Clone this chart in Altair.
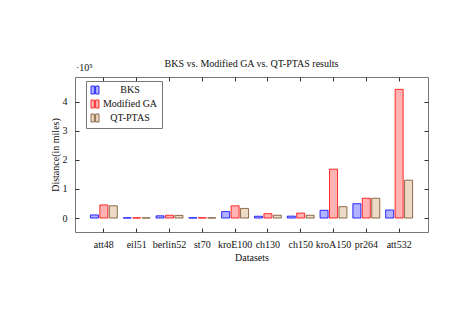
import altair as alt
import pandas as pd

datasets = ["att48", "eil51", "berlin52", "st70", "kroE100", "ch130", "ch150", "kroA150", "pr264", "att532"]
series = ["BKS", "Modified GA", "QT-PTAS"]
bks = [10628, 426, 7542, 675, 22068, 6110, 6528, 26524, 49135, 27686]
ga = [45000, 450, 9500, 720, 42000, 15000, 17000, 168000, 68000, 442000]
qt = [42000, 440, 9000, 700, 33000, 9500, 9500, 39000, 68000, 130000]
y_ticks = [0, 100000, 200000, 300000, 400000]

rows = []
for i, d in enumerate(datasets):
    for s, vals in zip(series, [bks, ga, qt]):
        rows.append({"Dataset": d, "Series": s, "Value": vals[i]})
df = pd.DataFrame(rows)

FONT = "Liberation Serif"
fills = ["#B3B3FF", "#FFB3B3", "#ECD9C6"]
strokes = ["#0000FF", "#FF0000", "#734D26"]

xscale = alt.Scale(domain=datasets, paddingInner=0.18, paddingOuter=0.47)
yscale = alt.Scale(domain=[-48000, 484500], nice=False, zero=False)

bars = alt.Chart(df).mark_bar(strokeWidth=0.8).encode(
    x=alt.X("Dataset:N", scale=xscale, sort=datasets,
            axis=alt.Axis(title="Datasets", orient="bottom", offset=-4, tickSize=4,
                          labelPadding=7, domain=False, labelAngle=0, tickColor="#333",
                          titlePadding=3)),
    xOffset=alt.XOffset("Series:N", scale=alt.Scale(domain=series, paddingInner=0.15)),
    y=alt.Y("Value:Q", scale=yscale,
            axis=alt.Axis(title="Distance(in miles)", orient="left", offset=-4, tickSize=4,
                          values=y_ticks, labelExpr="datum.value/100000", labelPadding=8,
                          domain=False, grid=False, tickColor="#333", titlePadding=2)),
    color=alt.Color("Series:N", scale=alt.Scale(domain=series, range=fills),
                    legend=alt.Legend(title=None)),
    stroke=alt.Stroke("Series:N", scale=alt.Scale(domain=series, range=strokes),
                      legend=alt.Legend(title=None)),
)

ticks = alt.Chart(df).mark_bar(opacity=0).encode(
    x=alt.X("Dataset:N", scale=xscale, sort=datasets,
            axis=alt.Axis(title=None, orient="top", offset=-4, tickSize=4, labels=False,
                          domain=False, tickColor="#333")),
    y=alt.Y("Value:Q", scale=yscale,
            axis=alt.Axis(title=None, orient="right", offset=-4, tickSize=4, labels=False,
                          values=y_ticks, domain=False, grid=False, tickColor="#333")),
)

exp_df = pd.DataFrame({"t": ["·10⁵"]})
exponent = alt.Chart(exp_df).mark_text(align="left", baseline="bottom", font=FONT,
                                       fontSize=10, color="#111").encode(
    x=alt.value(1), y=alt.value(-4), text="t:N")

chart = alt.layer(bars, ticks, exponent).resolve_axis(
    x="independent", y="independent"
).properties(
    width=353, height=155,
    title=alt.TitleParams("BKS vs. Modified GA vs. QT-PTAS results", font=FONT,
                          fontSize=10, fontWeight="normal", color="#111", offset=-26),
    autosize=alt.AutoSizeParams(type="none"),
    padding={"left": 75, "top": 77, "right": 46, "bottom": 103},
).configure_view(
    stroke="#777", strokeWidth=1
).configure_axis(
    labelFont=FONT, titleFont=FONT, labelFontSize=10, titleFontSize=10,
    titleFontWeight="normal", labelColor="#111", titleColor="#111"
).configure_legend(
    orient="none", legendX=11, legendY=4, strokeColor="#777", fillColor="white",
    padding=4, labelFont=FONT, labelFontSize=10, labelColor="#111",
    symbolType="M-1,-1H-0.15V1H-1Z M0.15,-1H1V1H0.15Z", symbolSize=64,
    symbolStrokeWidth=0.8, labelAlign="center", labelOffset=30, rowPadding=2,
    cornerRadius=0
)

chart.save("out.html", embed_options={"renderer": "svg", "actions": False})
